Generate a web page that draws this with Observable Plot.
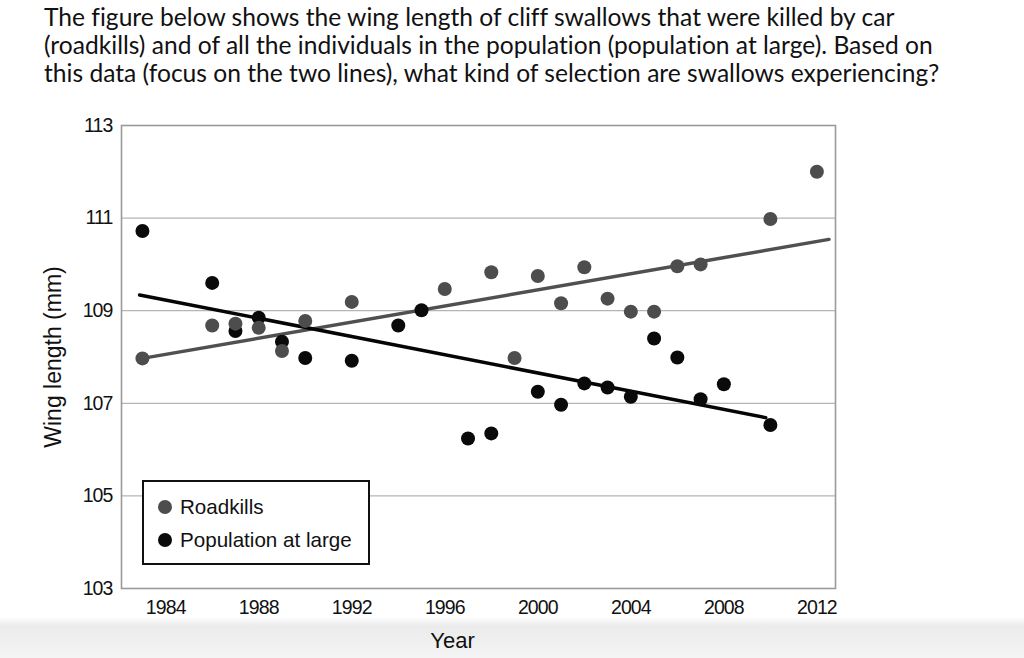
<!DOCTYPE html>
<html><head><meta charset="utf-8">
<script src="https://cdn.jsdelivr.net/npm/d3@7"></script>
<script src="https://cdn.jsdelivr.net/npm/@observablehq/plot@0.6"></script>
<style>
body{margin:0;width:1024px;height:658px;background:#fff;position:relative;overflow:hidden;font-family:"Liberation Sans",Arial,sans-serif}
#band{position:absolute;left:0;top:618px;width:1024px;height:40px;background:linear-gradient(#fcfcfc,#ebebeb 8px,#f4f4f4);z-index:0}
#title{position:absolute;left:44px;top:3px;font-family:Lato;font-size:24.6px;line-height:28px;color:#111;z-index:1;white-space:nowrap;font-variant-ligatures:none}
#chart{position:absolute;left:0;top:100px;z-index:1}
#legend{position:absolute;left:142px;top:480px;width:224px;height:81px;border:2px solid #111;background:#fff;z-index:2;font-size:20.6px;color:#111}
.item{position:absolute;left:14px;display:flex;align-items:center}
.dot{width:14px;height:14px;border-radius:50%;margin-right:8px}
#chart g[aria-label="x-axis tick label"] text, #chart g[aria-label="y-axis tick label"] text{letter-spacing:-0.9px}
</style></head>
<body>
<div id="band"></div>
<div id="title">The figure below shows the wing length of cliff swallows that were killed by car<br>(roadkills) and of all the individuals in the population (population at large). Based on<br>this data (focus on the two lines), what kind of selection are swallows experiencing?</div>
<div id="chart"></div>
<div id="legend">
  <div class="item" style="top:13px"><span class="dot" style="background:#4d4d4d"></span><span id="l1"></span></div>
  <div class="item" style="top:46px"><span class="dot" style="background:#0a0a0a"></span><span id="l2"></span></div>
</div>
<script>
const seriesNames = ["Roadkills", "Population at large"];
const roadYears  = [1983, 1986, 1987, 1988, 1989, 1990, 1992, 1996, 1998, 1999, 2000, 2001, 2002, 2003, 2004, 2005, 2006, 2007, 2010, 2012];
const roadValues = [107.97, 108.68, 108.72, 108.63, 108.13, 108.78, 109.19, 109.47, 109.83, 107.98, 109.75, 109.16, 109.94, 109.26, 108.98, 108.98, 109.96, 110.0, 110.98, 112.0];
const popYears  = [1983, 1986, 1987, 1988, 1989, 1990, 1992, 1994, 1995, 1997, 1998, 2000, 2001, 2002, 2003, 2004, 2005, 2006, 2007, 2008, 2010];
const popValues = [110.72, 109.6, 108.56, 108.85, 108.33, 107.98, 107.92, 108.68, 109.01, 106.24, 106.35, 107.25, 106.97, 107.43, 107.34, 107.14, 108.40, 107.99, 107.09, 107.41, 106.53];
const roadTrendYears = [1983, 2012.52];
const roadTrendValues = [107.97, 110.54];
const popTrendYears = [1982.88, 2009.8];
const popTrendValues = [109.34, 106.69];
const xTicks = [1984, 1988, 1992, 1996, 2000, 2004, 2008, 2012];
const yTicks = [103, 105, 107, 109, 111, 113];
const gridValues = [105, 107, 109, 111];
const xLabel = "Year";
const yLabel = "Wing length (mm)";

document.getElementById("l1").textContent = seriesNames[0];
document.getElementById("l2").textContent = seriesNames[1];

const zip = (xs, ys) => xs.map((x, i) => ({year: x, value: ys[i]}));
const road = zip(roadYears, roadValues);
const pop = zip(popYears, popValues);
const roadTrend = zip(roadTrendYears, roadTrendValues);
const popTrend = zip(popTrendYears, popTrendValues);

const tickFont = {fontFamily: "'Liberation Sans',Arial,sans-serif", fontSize: 19.5};

const chart = Plot.plot({
  width: 1024, height: 558,
  marginLeft: 121, marginRight: 189, marginTop: 25, marginBottom: 70,
  style: {fontFamily: "'Liberation Sans',Arial,sans-serif", color: "#111", background: "transparent"},
  x: {domain: [1982.1, 2012.8]},
  y: {domain: [103, 113]},
  marks: [
    Plot.gridY(gridValues, {stroke: "#b5b5b5", strokeOpacity: 1, strokeWidth: 1.2}),
    Plot.frame({stroke: "#9a9a9a", strokeWidth: 1.6}),
    Plot.axisX(xTicks, {tickSize: 0, tickPadding: 12, tickFormat: d => String(d), label: null, ...tickFont}),
    Plot.axisY(yTicks, {tickSize: 0, tickPadding: 9, label: null, ...tickFont}),
    Plot.text([yLabel], {frameAnchor: "left", rotate: -90, dx: -68, fontSize: 23, fill: "#111", lineAnchor: "middle", textAnchor: "middle"}),
    Plot.text([xLabel], {frameAnchor: "bottom", dy: 52, dx: -26, fontSize: 22, fill: "#111", lineAnchor: "middle"}),
    Plot.line(roadTrend, {x: "year", y: "value", stroke: "#505050", strokeWidth: 3.5}),
    Plot.line(popTrend, {x: "year", y: "value", stroke: "#050505", strokeWidth: 3.5}),
    Plot.dot(pop, {x: "year", y: "value", r: 7, fill: "#0a0a0a"}),
    Plot.dot(road, {x: "year", y: "value", r: 7, fill: "#4d4d4d"})
  ]
});
document.getElementById("chart").appendChild(chart);
</script>
</body></html>
